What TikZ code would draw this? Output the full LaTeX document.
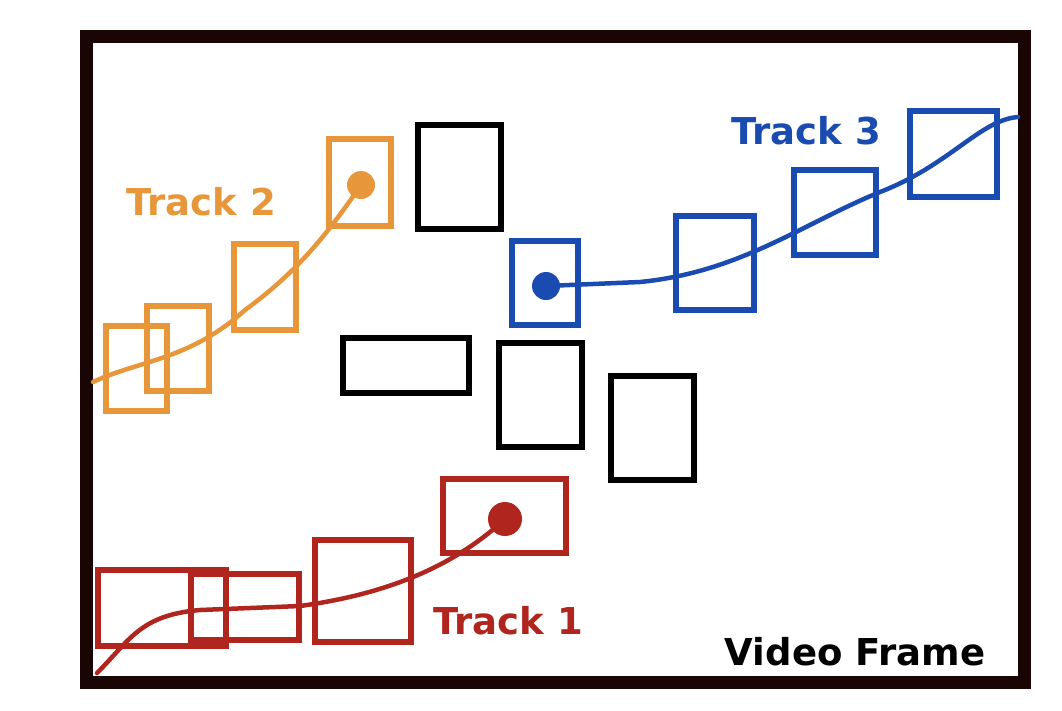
\documentclass[tikz,border=0pt]{standalone}
\usepackage{fontspec}
\setmainfont{DejaVu Sans}
\definecolor{tor}{HTML}{E8963A}
\definecolor{tbl}{HTML}{1A4BB0}
\definecolor{trd}{HTML}{B0261E}
\definecolor{tfr}{HTML}{1A0505}
\begin{document}
\begin{tikzpicture}[x=1pt,y=-1pt,
  bx/.style={line width=5.5pt},
  path/.style={line width=4.5pt,line cap=round,line join=round},
  lbl/.style={font=\fontsize{37}{37}\selectfont\bfseries}]
\useasboundingbox (0,0) rectangle (1062,710);
\draw[tfr,line width=13pt] (86,36) rectangle (1024,682);
% orange
\draw[bx,tor] (106,326) rectangle (167,411);
\draw[bx,tor] (147,306) rectangle (209,391);
\draw[bx,tor] (234,244) rectangle (296,330);
\draw[bx,tor] (329,139) rectangle (391,226);
\coordinate (o0) at (93,382);
\node[circle,fill=tor,inner sep=0,minimum size=28pt] (od) at (361,185) {};
\draw[path,tor] (o0) .. controls (140,360) and (190,360) .. (245,310) .. controls (300,270) and (330,230) .. (od.center);
\node[lbl,text=tor] (t2) at (201,202) {Track 2};
% black
\draw[bx,black] (418,125) rectangle (501,229);
\draw[bx,black] (343,338) rectangle (469,393);
\draw[bx,black] (499,343) rectangle (582,447);
\draw[bx,black] (611,376) rectangle (694,480);
% blue
\draw[bx,tbl] (512,241) rectangle (578,325);
\draw[bx,tbl] (676,216) rectangle (754,310);
\draw[bx,tbl] (794,170) rectangle (876,255);
\draw[bx,tbl] (910,111) rectangle (997,197);
\node[circle,fill=tbl,inner sep=0,minimum size=28pt] (bd) at (546,286) {};
\coordinate (b1) at (1018,117);
\draw[path,tbl] (bd.center) -- (640,282) .. controls (740,272) and (800,225) .. (880,192) .. controls (950,165) and (980,120) .. (b1);
\node[lbl,text=tbl] (t3) at (806,131) {Track 3};
% red
\draw[bx,trd] (98,570) rectangle (226,646);
\draw[bx,trd] (191,574) rectangle (299,640);
\draw[bx,trd] (315,540) rectangle (411,642);
\draw[bx,trd] (443,479) rectangle (566,553);
\node[circle,fill=trd,inner sep=0,minimum size=34pt] (rd) at (505,519) {};
\coordinate (r0) at (97,673);
\draw[path,trd] (r0) .. controls (130,640) and (140,615) .. (200,610) -- (300,606) .. controls (380,595) and (450,570) .. (rd.center);
\node[lbl,text=trd] (t1) at (508,621) {Track 1};
\node[lbl,text=black] (vf) at (855,652) {Video Frame};
\end{tikzpicture}
\end{document}
